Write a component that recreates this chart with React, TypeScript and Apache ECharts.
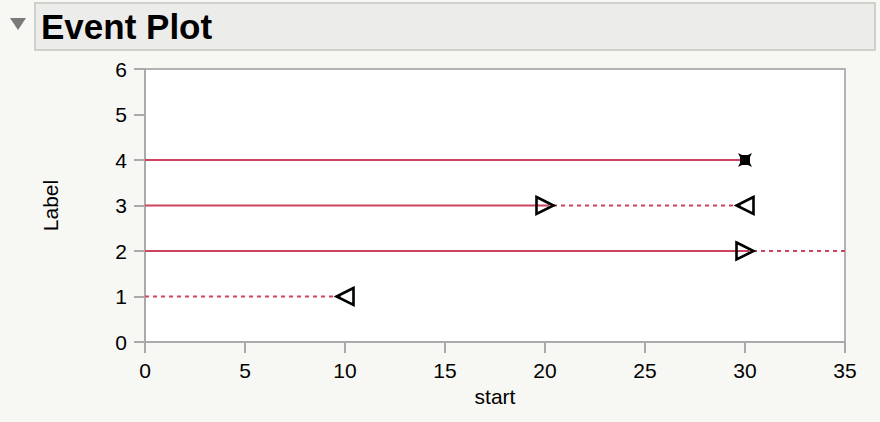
import React, { useEffect, useRef } from "react";
import * as echarts from "echarts";

// Event segments: [label, start, end]
const solidSegments: [number, number, number][] = [
  [4, 0, 30],
  [3, 0, 20],
  [2, 0, 30],
];
const dashedSegments: [number, number, number][] = [
  [3, 20, 30],
  [2, 30, 35],
  [1, 0, 10],
];
// Markers: [x, label]
const rightTriangles: [number, number][] = [
  [20, 3],
  [30, 2],
];
const leftTriangles: [number, number][] = [
  [30, 3],
  [10, 1],
];
const crossMarks: [number, number][] = [[30, 4]];

const xTicks = [0, 5, 10, 15, 20, 25, 30, 35];
const yTicks = [0, 1, 2, 3, 4, 5, 6];

const FONT = "'Liberation Sans', Arial, Helvetica, sans-serif";
const LINE_COLOR = "#cc4460";

export default function App() {
  const ref = useRef<HTMLDivElement>(null);

  useEffect(() => {
    if (!ref.current) return;
    const chart = echarts.init(ref.current, null, { renderer: "svg" });

    const segSeries = (segs: [number, number, number][], dashed: boolean) =>
      segs.map(([lab, s, e]) => ({
        type: "line",
        data: [
          [s, lab],
          [e, lab],
        ],
        symbol: "none",
        silent: true,
        z: 2,
        lineStyle: {
          color: LINE_COLOR,
          width: 2,
          type: dashed ? [4, 4] : "solid",
        },
      }));

    const markerStyle = {
      color: "rgba(255,255,255,0)",
      borderColor: "#000",
      borderWidth: 2.6,
      opacity: 1,
    };

    const option: any = {
      animation: false,
      backgroundColor: "#f7f7f3",
      textStyle: { fontFamily: FONT },
      graphic: [
        {
          type: "rect",
          shape: { x: 35, y: 3, width: 840, height: 47 },
          style: { fill: "#ececea", stroke: "#d0d0ca", lineWidth: 2 },
        },
        {
          type: "polygon",
          shape: {
            points: [
              [10, 18],
              [26, 18],
              [18, 30],
            ],
          },
          style: { fill: "#7a7a7a" },
        },
        {
          type: "text",
          x: 41,
          y: 26,
          style: {
            text: "Event Plot",
            font: `bold 35px ${FONT}`,
            fill: "#000",
            verticalAlign: "middle",
          },
        },
      ],
      grid: {
        left: 145,
        top: 69,
        right: 35,
        bottom: 80,
        show: true,
        backgroundColor: "#ffffff",
        borderColor: "#b3b3b3",
        borderWidth: 2,
      },
      xAxis: {
        type: "value",
        min: xTicks[0],
        max: xTicks[xTicks.length - 1],
        interval: 5,
        name: "start",
        nameLocation: "middle",
        nameGap: 44,
        nameTextStyle: { fontSize: 21, color: "#000", fontFamily: FONT },
        axisLine: { show: true, lineStyle: { color: "#aaaaaa", width: 2 } },
        axisTick: { show: true, length: 11, lineStyle: { color: "#aaaaaa", width: 2 } },
        axisLabel: { fontSize: 21, color: "#000", margin: 18, fontFamily: FONT },
        splitLine: { show: false },
      },
      yAxis: {
        type: "value",
        min: yTicks[0],
        max: yTicks[yTicks.length - 1],
        interval: 1,
        name: "Label",
        nameLocation: "middle",
        nameGap: 84,
        nameTextStyle: { fontSize: 21, color: "#000", fontFamily: FONT },
        axisLine: { show: true, lineStyle: { color: "#aaaaaa", width: 2 } },
        axisTick: { show: true, length: 11, lineStyle: { color: "#aaaaaa", width: 2 } },
        axisLabel: { fontSize: 21, color: "#000", margin: 18, fontFamily: FONT },
        splitLine: { show: false },
      },
      series: [
        ...segSeries(solidSegments, false),
        ...segSeries(dashedSegments, true),
        {
          type: "scatter",
          data: rightTriangles,
          symbol: "path://M0,0 L18,9 L0,18 Z",
          symbolSize: [17, 17],
          z: 5,
          silent: true,
          itemStyle: markerStyle,
        },
        {
          type: "scatter",
          data: leftTriangles,
          symbol: "path://M18,0 L0,9 L18,18 Z",
          symbolSize: [17, 17],
          z: 5,
          silent: true,
          itemStyle: markerStyle,
        },
        {
          type: "scatter",
          data: crossMarks,
          symbol:
            "path://M0,0 L4,2 L10,2 L14,0 L12,4 L12,10 L14,14 L10,12 L4,12 L0,14 L2,10 L2,4 Z",
          symbolSize: [14, 14],
          z: 5,
          silent: true,
          itemStyle: { color: "#000", opacity: 1 },
        },
      ],
    };

    chart.setOption(option);
    return () => chart.dispose();
  }, []);

  return (
    <div
      ref={ref}
      style={{ position: "fixed", left: 0, top: 0, width: 880, height: 422 }}
    />
  );
}
